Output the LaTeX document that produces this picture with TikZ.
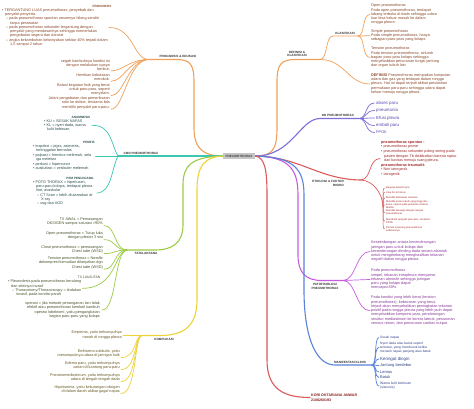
\documentclass[tikz,border=0pt]{standalone}
\usepackage{fontspec}
\setmainfont{Liberation Sans}
\definecolor{corange}{HTML}{F0A05A}
\definecolor{cteal}{HTML}{3CC6B0}
\definecolor{cgreen}{HTML}{9CCB45}
\definecolor{cyellow}{HTML}{EDD23A}
\definecolor{cred}{HTML}{DD5A5A}
\definecolor{cmag}{HTML}{C85CE0}
\definecolor{cblue}{HTML}{5A84DA}
\definecolor{cviolet}{HTML}{7C6FDA}
\definecolor{tprog}{HTML}{8A4A2A}
\definecolor{tcmd}{HTML}{2F4F4F}
\definecolor{ttat}{HTML}{4A5530}
\definecolor{tkom}{HTML}{6A5A25}
\definecolor{tdd}{HTML}{5A4AB0}
\definecolor{tet}{HTML}{A02525}
\definecolor{tpat}{HTML}{8A3A9A}
\definecolor{tman}{HTML}{34448A}
\definecolor{labc}{HTML}{333333}
\definecolor{ckori}{HTML}{8B1A1A}
\newcommand\fA{\fontsize{3.8}{4.25}\selectfont}
\newcommand\fL{\fontsize{3.1}{3.6}\selectfont\bfseries}
\newcommand\fS{\fontsize{2.5}{3.0}\selectfont}
\newcommand\fB{\fontsize{4.4}{5}\selectfont}
\tikzset{
  lab/.style={font=\fL, text=labc, inner sep=0pt, align=center},
  txt/.style={font=\fA, inner sep=0pt, align=left, anchor=north west},
  rtxt/.style={font=\fA, inner sep=0pt, align=right, anchor=east},
  br/.style={line width=1.1pt, line cap=round},
  sub/.style={line width=0.7pt, line cap=round},
}
\begin{document}
\begin{tikzpicture}[x=1pt,y=-1pt]
\useasboundingbox (0,0) rectangle (474,408);
\fill[white] (0,0) rectangle (474,408);

% centre
\node[fill=gray!45, inner xsep=3pt, inner ysep=1.6pt, font=\fL, text=black!75] (c) at (239,156) {PNEUMOTHORAX};

% ---------------- PROGNOSIS & EDUKASI
\node[lab] (pe) at (178,56.5) {PROGNOSIS \& EDUKASI};
\coordinate (peJ) at (149,59.5);
\draw[br,corange] (c.west) .. controls (205,156) and (194,150) .. (194,128) -- (194,82) .. controls (194,64) and (190,59.5) .. (176,59.5) -- (peJ);
\node[lab, text=tprog] (progt) at (102,6) {PROGNOSIS};
\node[txt,text=tprog] (prog) at (2,8.5) {• TERGANTUNG LUAS pneumothorax, penyebab dan\\%
\hspace*{3pt}penyakit penyerta.\\%
\hspace*{4pt}– pada pneumothorax spontan umumnya hilang sendiri\\%
\hspace*{8pt}tanpa perawatan\\%
\hspace*{4pt}– pada pneumothorax sekunder tergantung dengan\\%
\hspace*{8pt}penyakit yang mendasarinya sehingga memerlukan\\%
\hspace*{8pt}pengobatan segera dan darurat\\%
\hspace*{4pt}– angka kekambuhan kebanyakan sekitar 40\% terjadi dalam\\%
\hspace*{8pt}1,5 sampai 2 tahun};
\node[rtxt,text=tprog] (e1) at (110,65) {cegah kambuhnya kondisi ini\\dengan melakukan upaya\\berikut:};
\node[rtxt,text=tprog] (e2) at (110,77.5) {Hentikan kebiasaan\\merokok.};
\node[rtxt,text=tprog] (e3) at (110,89.5) {Batasi kegiatan fisik yang berat\\untuk paru-paru, seperti\\menyelam.};
\node[rtxt,text=tprog] (e4) at (110,103) {Jalani pengobatan dan pemeriksaan\\rutin ke dokter, terutama bila\\memiliki penyakit paru-paru.};
\draw[sub,corange] (peJ) .. controls (133,59.5) and (134,27.5) .. ([xshift=1pt]prog.east);
\foreach \n in {e1,e2,e3,e4}
  \draw[sub,corange] (peJ) .. controls (128,59.5) and (124,0|-\n.south east) .. ([xshift=1pt]\n.south east);

% ---------------- DEFINISI & KLASIFIKASI
\node[lab] (dk) at (297,54) {DEFINISI \&\\KLASIFIKASI};
\coordinate (dkJ) at (320,59.5);
\draw[br,corange] (c.east) .. controls (272,156) and (277,150) .. (277,128) -- (277,82) .. controls (277,64) and (281,59.5) .. (296,59.5) -- (dkJ);
\node[lab] (kl) at (345,33) {KLASIFIKASI};
\coordinate (klW) at (333,36);
\coordinate (klE) at (358,36);
\draw[sub,corange] (dkJ) .. controls (328,59.5) and (325,36) .. (klW) -- (klE);
\node[txt,text=tprog] (k1) at (371,4) {Open pneumothorax\\Pada open pneumothorax, terdapat\\lubang terbuka di dada sehingga udara\\luar bisa keluar masuk ke dalam\\rongga pleura};
\node[txt,text=tprog] (k2) at (371,29.5) {Simple pneumothorax\\Pada simple pneumothorax, hanya\\sebagian paru-paru yang kolaps};
\node[txt,text=tprog] (k3) at (371,47) {Tension pneumothorax\\Pada tension pneumothorax, seluruh\\bagian paru-paru kolaps sehingga\\menyebabkan penurunan fungsi jantung\\dan organ tubuh lain};
\node[txt,text=tprog] (def) at (371,73.5) {\textbf{DEFINISI} Pneumothorax merupakan kumpulan\\udara dan gas yang terdapat dalam rongga\\pleura. Hal ini dapat terjadi akibat perubahan\\permukaan paru-paru sehingga udara dapat\\keluar menuju rongga pleura.};
\foreach \n in {k1,k2,k3}
  \draw[sub,corange] (klE) .. controls (365,36) and (362,0|-\n.west) .. ([xshift=-1pt]\n.west);
\draw[sub,corange] (dkJ) .. controls (345,59.5) and (348,84) .. ([xshift=-1pt]def.west);

% ---------------- DD PNEUMOTHORAX
\node[lab] (dd) at (338,115.5) {DD PNEUMOTHORAX};
\coordinate (ddJ) at (359,118.5);
\draw[br,cviolet] (c.east) .. controls (292,156) and (300,118.5) .. (320,118.5) -- (ddJ);
\node[font=\fB, text=tdd, inner sep=0pt, anchor=west] (d1) at (376,103) {abses paru};
\node[font=\fB, text=tdd, inner sep=0pt, anchor=west] (d2) at (376,110.5) {pneumonia};
\node[font=\fB, text=tdd, inner sep=0pt, anchor=west] (d3) at (376,118) {Efusi pleura};
\node[font=\fB, text=tdd, inner sep=0pt, anchor=west] (d4) at (376,125.5) {emboli paru};
\node[font=\fA, text=tdd, inner sep=0pt, anchor=west] (d5) at (376,132.5) {PPOK};
\foreach \n in {d1,d2,d3,d4,d5}
  \draw[sub,cviolet] (ddJ) .. controls (367,118.5) and (365,0|-\n.west) .. ([xshift=-1.5pt]\n.west);

% ---------------- ETIOLOGI & FAKTOR RISIKO
\node[lab, align=right, anchor=north east] (et) at (344,180.5) {ETIOLOGI \& FAKTOR\\RISIKO};
\coordinate (etJ) at (360,180);
\coordinate (etB) at (383,207);
\draw[br,cred] (c.east) .. controls (300,157) and (318,179) .. (etJ);
\node[txt,text=tet,font=\fontsize{3.7}{4.6}\selectfont] (eg) at (381,140.5) {\textbf{pneumothorax spontan :}\\%
• pneumothorax primer\\%
• pneumothorax sekunder paling sering pada\\%
\hspace*{3pt}pasien dengan Tb diakibatkan karena ruptur\\%
\hspace*{3pt}dari kavitas menuju ruang pleura.\\%
\textbf{pneumothorax traumatik}\\%
• Non iatrogenik\\%
• Iatrogenik};
\draw[sub,cred] (etJ) .. controls (372,180) and (368,159) .. ([xshift=-1pt]eg.west);
\draw[sub,cred] (etJ) .. controls (374,180) and (383,195) .. (etB);
\node[font=\fS, text=tet, inner sep=0pt, anchor=west, align=left] (s1) at (386,188) {Berjenis kelamin pria};
\node[font=\fS, text=tet, inner sep=0pt, anchor=west, align=left] (s2) at (386,192.5) {Usia 20–40 tahun};
\node[font=\fS, text=tet, inner sep=0pt, anchor=west, align=left] (s3) at (386,198) {Memiliki kebiasaan merokok};
\node[font=\fS, text=tet, inner sep=0pt, anchor=west, align=left] (s4) at (386,205) {Memiliki postur tubuh yang tinggi dan\\kurus, seperti pada penderita sindrom\\Marfan};
\node[font=\fS, text=tet, inner sep=0pt, anchor=west, align=left] (s5) at (386,212.5) {Memiliki keluarga dengan riwayat\\pneumothorax};
\node[font=\fS, text=tet, inner sep=0pt, anchor=west, align=left] (s6) at (386,221) {Menderita penyakit paru-paru, terutama\\PPOK};
\node[font=\fS, text=tet, inner sep=0pt, anchor=west, align=left] (s7) at (386,229) {Pernah terserang pneumothorax\\sebelumnya};
\foreach \n in {s1,s2,s3,s4,s5,s6,s7}
  \draw[sub,cred,line width=0.5pt] (etB) .. controls (383,0|-\n.west) .. ([xshift=-1pt]\n.west);

% ---------------- PATOFISIOLOGI
\node[lab] (pa) at (325,286.5) {PATOFISIOLOGI\\PNEUMOTHORAX};
\coordinate (paJ) at (343,280.5);
\draw[br,cmag] (c.east) .. controls (290,157) and (298,170) .. (298,195) -- (298,255) .. controls (298,272) and (305,280.5) .. (322,280.5) -- (paJ);
\node[txt,text=tpat] (p1) at (371,241) {Keseimbangan antara kecenderungan\\jaringan paru untuk kolaps dan\\kecenderungan dinding dada secara alamiah\\untuk mengembang menghasilkan tekanan\\negatif dalam rongga pleura.};
\node[txt,text=tpat] (p2) at (371,269) {Pada pneumothorax\\simpel, tekanan intrapleura menyamai\\tekanan atmosfir sehingga jaringan\\paru yang kolaps dapat\\mencapai 80\%.};
\node[txt,text=tpat] (p3) at (371,296) {Pada kondisi yang lebih berat (tension\\pneumothorax), kebocoran yang terus\\terjadi akan menyebabkan peningkatan tekanan\\positif pada rongga pleura yang lebih jauh dapat\\menyebabkan kompresi paru, pendorongan\\struktur mediastinum ke kontra lateral, penurunan\\venous return, dan penurunan cardiac output.};
\foreach \n in {p1,p2,p3}
  \draw[sub,cmag] (paJ) .. controls (356,280.5) and (356,0|-\n.west) .. ([xshift=-1pt]\n.west);

% ---------------- MANIFESTASI KLINIS
\node[lab] (mk) at (350,362.3) {MANIFESTASI KLINIS};
\coordinate (mkJ) at (372,365);
\draw[br,cblue] (c.east) .. controls (295,157) and (304,170) .. (304,195) -- (304,290) .. controls (304,335) and (315,365) .. (335,365) -- (mkJ);
\node[font=\fontsize{3.3}{3.8}\selectfont, text=tman, inner sep=0pt, anchor=west] (m1) at (380,337.5) {Sesak napas};
\node[font=\fontsize{3.3}{3.8}\selectfont, text=tman, inner sep=0pt, anchor=west, align=left] (m2) at (380,347.5) {Nyeri dada atau batuk seperti\\tertusuk, yang memburuk ketika\\menarik napas panjang atau batuk};
\node[font=\fB, text=tman, inner sep=0pt, anchor=west] (m3) at (380,359) {Keringat dingin};
\node[font=\fontsize{4}{4.5}\selectfont, text=tman, inner sep=0pt, anchor=west] (m4) at (380,365.5) {Jantung berdebar};
\node[font=\fontsize{4}{4.5}\selectfont, text=tman, inner sep=0pt, anchor=west] (m5) at (380,372) {Lemas};
\node[font=\fontsize{4}{4.5}\selectfont, text=tman, inner sep=0pt, anchor=west] (m6) at (380,377.5) {Batuk};
\node[font=\fontsize{3.4}{4}\selectfont, text=tman, inner sep=0pt, anchor=west, align=left] (m7) at (380,386) {Warna kulit kebiruan\\(sianosis)};
\foreach \n in {m1,m2,m3,m4,m5,m6,m7}
  \draw[sub,cblue] (mkJ) .. controls (377,365) and (374,0|-\n.west) .. ([xshift=-1pt]\n.west);

% ---------------- KORI
\node[font=\fontsize{3.6}{4.6}\selectfont\bfseries, text=ckori, align=left, anchor=west, inner sep=0pt] (kori) at (311,397.5) {KORI OKTARIANA ANWAR\\2108260193};
\draw[br,cred] (c.east) .. controls (265,158) and (267,170) .. (267,195) -- (267,360) .. controls (267,390) and (285,397.5) .. ([xshift=-1pt]kori.west);

% ---------------- CMD PNEUMOTHORAX
\node[lab] (cmd) at (141,153.3) {CMD PNEUMOTHORAX};
\coordinate (cmdJ) at (118,156);
\draw[br,cteal] (c.west) -- (cmdJ);
\node[lab,text=tcmd] (ant) at (81,117) {ANAMNESIS};
\node[txt,text=tcmd] (an) at (44,119.5) {• KU = SESAK NAFAS\\• KL = nyeri dada, warna\\\hspace*{3pt}kulit kebiruan};
\node[lab,text=tcmd] (pft) at (89,142) {PEMFIS};
\node[txt,text=tcmd,font=\fontsize{3.8}{4.4}\selectfont] (pf) at (33,144.5) {• inspeksi = jejas, asimetris,\\%
\hspace*{3pt}tertinggalan bernafas\\%
• palpasi = fremitus melemah, sela\\%
\hspace*{3pt}iga melebar\\%
• perkusi = hipersonor\\%
• auskultasi = vesikuler melemah};
\node[lab,text=tcmd] (ppt) at (80,178) {PEM PENUNJANG};
\node[txt,text=tcmd] (pp) at (33,180.5) {• FOTO THORAX = hiperlusen,\\%
\hspace*{3pt}paru-paru kolaps, terdapat pleura\\%
\hspace*{3pt}line, avaskular\\%
\hspace*{4pt}– CT Scan = lebih diutamakan dr\\%
\hspace*{8pt}X-ray\\%
\hspace*{4pt}– usg dan AGD};
\draw[sub,cteal] (cmdJ) .. controls (111,145) and (112,125) .. ([xshift=6pt]an.east);
\draw[sub,cteal] (cmdJ) -- ([xshift=4pt]pf.east|-cmdJ);
\draw[sub,cteal] (cmdJ) .. controls (111,170) and (112,192) .. ([xshift=4pt]pp.east);

% ---------------- TATALAKSANA
\node[lab] (tl) at (146,253.5) {TATALAKSANA};
\coordinate (tlJ) at (127,250);
\draw[br,cgreen] (c.west) .. controls (192,157) and (183,165) .. (183,185) -- (183,225) .. controls (183,243) and (172,250) .. (155,250) -- (tlJ);
\node[rtxt,text=ttat] (t1) at (103,221.5) {TX AWAL = Pemasangan\\OKSIGEN sampai saturasi >90\%};
\node[rtxt,text=ttat] (t2) at (103,235.5) {Open pneumothorax = Tutup luka\\dengan plester 3 sisi};
\node[rtxt,text=ttat] (t3) at (103,249.5) {Close pneumothorax = pemasangan\\Chest tube (WSD)};
\node[rtxt,text=ttat] (t4) at (103,263) {Tension pneumothorax = Needle\\dekompresi kemudian dilanjutkan dgn\\Chest tube (WSD)};
\node[lab,text=ttat,font=\fontsize{3.4}{4}\selectfont] (t5t) at (89,277) {TX LANJUTAN};
\node[txt,text=ttat] (t5) at (8,280) {• Pleurodesis pada pneumothorax berulang\\%
\hspace*{3pt}dan sifatnya invasif\\%
\hspace*{4pt}– Thoracotomy/Thoracoscopy = tindakan\\%
\hspace*{8pt}invasif, pada kondisi parah};
\node[rtxt,text=ttat] (t6) at (100,310) {operasi = jika metode penanganan lain tidak\\efektif atau pneumothorax kembali kambuh\\operasi lobektomi, yaitu pengangkatan\\bagian paru-paru yang kolaps};
\foreach \n in {t1,t2,t3,t4}
  \draw[sub,cgreen] (tlJ) .. controls (114,250) and (116,0|-\n.south east) .. ([xshift=1pt]\n.south east);
\draw[sub,cgreen] (tlJ) .. controls (114,252) and (117,288) .. ([xshift=1pt]t5.east);
\draw[sub,cgreen] (tlJ) .. controls (114,252) and (117,310) .. ([xshift=2pt]t6.east);

% ---------------- KOMPLIKASI
\node[lab] (kom) at (164,339.3) {KOMPLIKASI};
\coordinate (koJ) at (142,335.5);
\draw[br,cyellow] (c.west) .. controls (205,157) and (197,165) .. (197,190) -- (197,300) .. controls (197,325) and (185,335.5) .. (160,335.5) -- (koJ);
\node[rtxt,text=tkom] (km1) at (122,335) {Empiema, yaitu terkumpulnya\\nanah di rongga pleura};
\node[rtxt,text=tkom] (km2) at (120,353.5) {Emfisema subkutis, yaitu\\menumpuknya udara di jaringan kulit};
\node[rtxt,text=tkom] (km3) at (120,365.5) {Edema paru, yaitu terkumpulnya\\cairan di kantong paru-paru};
\node[rtxt,text=tkom] (km4) at (120,377.5) {Pneumomediastinum, yaitu terkumpulnya\\udara di tengah-tengah dada};
\node[rtxt,text=tkom] (km5) at (120,389.5) {Hipoksemia, yaitu kekurangan oksigen\\di dalam darah akibat gagal napas};
\draw[sub,cyellow] (koJ) -- ([xshift=1pt]km1.east|-koJ);
\foreach \n in {km2,km3,km4,km5}
  \draw[sub,cyellow] (koJ) .. controls (134,336) and (137,0|-\n.south east) .. ([xshift=1pt]\n.south east);
\end{tikzpicture}
\end{document}
